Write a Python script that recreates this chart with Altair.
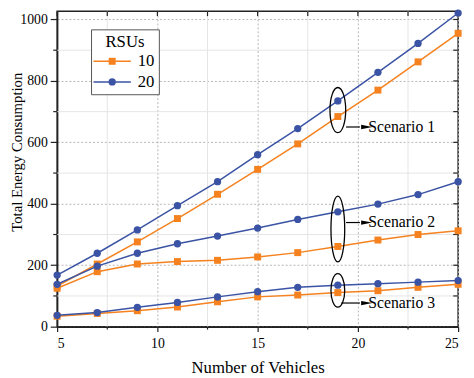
import altair as alt
import pandas as pd

# ---------------- data ----------------
vehicles = [5, 7, 9, 11, 13, 15, 17, 19, 21, 23, 25]
s1_rsu10 = [132, 204, 276, 352, 431, 512, 595, 684, 770, 862, 955]
s1_rsu20 = [168, 239, 315, 394, 472, 560, 645, 735, 828, 922, 1021]
s2_rsu10 = [125, 179, 204, 212, 216, 227, 241, 261, 282, 300, 312]
s2_rsu20 = [138, 197, 239, 270, 295, 321, 349, 374, 399, 430, 472]
s3_rsu10 = [34, 43, 52, 64, 81, 97, 103, 111, 117, 128, 138]
s3_rsu20 = [37, 46, 63, 79, 97, 114, 128, 135, 140, 145, 150]

y_major = [0, 200, 400, 600, 800, 1000]
y_minor = [100, 300, 500, 700, 900]
x_major = [5, 10, 15, 20, 25]
x_minor = [7.5, 12.5, 17.5, 22.5]

rsu_labels = ["10", "20"]
rsu_colors = ["#F5821F", "#3A53A4"]

scen_labels = ["Scenario 1", "Scenario 2", "Scenario 3"]
ell_x = 19
ell_y = [705, 318, 118]
ell_h = [46, 67, 34]
ell_w = [16, 14, 14]
arrow_y = [650, 339, 77]
arrow_x0 = [19.41, 19.41, 19.17]
arrow_x1 = 20.44
head_x = 20.1
text_x = 20.52

W, H = 408, 321
FONT = "Liberation Serif"

rows = []
for scen, a10, a20 in [("S1", s1_rsu10, s1_rsu20), ("S2", s2_rsu10, s2_rsu20), ("S3", s3_rsu10, s3_rsu20)]:
    for v, a, b in zip(vehicles, a10, a20):
        rows.append({"veh": v, "val": a, "rsu": "10", "scen": scen})
        rows.append({"veh": v, "val": b, "rsu": "20", "scen": scen})
df = pd.DataFrame(rows)

xs = alt.Scale(domain=[5, 25], nice=False, zero=False)
ys = alt.Scale(domain=[0, 1027], nice=False, zero=True)

one = pd.DataFrame({"k": [0]})

layers = []

# minor grid
layers.append(alt.Chart(pd.DataFrame({"v": y_minor})).mark_rule(color="#e4e4e4", strokeWidth=1)
              .encode(y=alt.Y("v:Q", scale=ys)))
layers.append(alt.Chart(pd.DataFrame({"v": x_minor})).mark_rule(color="#e4e4e4", strokeWidth=1)
              .encode(x=alt.X("v:Q", scale=xs)))

# minor outward ticks left / bottom
layers.append(alt.Chart(pd.DataFrame({"v": y_minor})).mark_rule(color="#222", strokeWidth=1.2)
              .encode(y=alt.Y("v:Q", scale=ys), x=alt.value(-4), x2=alt.value(0)))
layers.append(alt.Chart(pd.DataFrame({"v": x_minor})).mark_rule(color="#222", strokeWidth=1.2)
              .encode(x=alt.X("v:Q", scale=xs), y=alt.value(H), y2=alt.value(H + 3)))
# inward ticks top / right
layers.append(alt.Chart(pd.DataFrame({"v": x_major + x_minor})).mark_rule(color="#222", strokeWidth=1.2)
              .encode(x=alt.X("v:Q", scale=xs), y=alt.value(0), y2=alt.value(5)))
layers.append(alt.Chart(pd.DataFrame({"v": y_major + y_minor})).mark_rule(color="#222", strokeWidth=1.2)
              .encode(y=alt.Y("v:Q", scale=ys), x=alt.value(W - 5), x2=alt.value(W)))

# series
shapes = ["square", "circle"]
sizes = [50, 55]
for lab, col, shp, sz in zip(rsu_labels, rsu_colors, shapes, sizes):
    sub = df[df["rsu"] == lab]
    base = alt.Chart(sub)
    xenc = alt.X("veh:Q", scale=xs,
                 axis=alt.Axis(values=x_major, title="Number of Vehicles", grid=True,
                               tickSize=5, labelPadding=16, labelBaseline="alphabetic",
                               titleFontSize=17, titleBaseline="alphabetic", titleY=47))
    yenc = alt.Y("val:Q", scale=ys,
                 axis=alt.Axis(values=y_major, title="Total Energy Consumption", grid=True,
                               format="d", tickSize=7, labelPadding=3,
                               titleFontSize=15, titleBaseline="alphabetic",
                               titleX=-36, titleY=143, titleAngle=270))
    layers.append(base.mark_line(color=col, strokeWidth=1.5).encode(x=xenc, y=yenc, detail="scen:N"))
    layers.append(base.mark_point(color=col, filled=True, opacity=1, shape=shp, size=sz)
                  .encode(x=xenc, y=yenc))

# annotations: ellipses, arrows, texts
for i in range(3):
    a = ell_w[i] / ell_h[i]
    k = 0.5523
    path = (f"M0,-1 C{k*a:.4f},-1 {a:.4f},{-k} {a:.4f},0 C{a:.4f},{k} {k*a:.4f},1 0,1 "
            f"C{-k*a:.4f},1 {-a:.4f},{k} {-a:.4f},0 C{-a:.4f},{-k} {-k*a:.4f},-1 0,-1 Z")
    adf = pd.DataFrame({"x": [ell_x], "y": [ell_y[i]], "x0": [arrow_x0[i]], "x1": [arrow_x1],
                        "ya": [arrow_y[i]], "hx": [head_x], "tx": [text_x], "t": [scen_labels[i]]})
    ab = alt.Chart(adf)
    layers.append(ab.mark_point(shape=path, size=ell_h[i] ** 2, filled=False, color="black",
                                strokeWidth=1.3, opacity=1)
                  .encode(x=alt.X("x:Q", scale=xs), y=alt.Y("y:Q", scale=ys)))
    layers.append(ab.mark_rule(color="black", strokeWidth=1.2)
                  .encode(x=alt.X("x0:Q", scale=xs), x2="hx:Q", y=alt.Y("ya:Q", scale=ys)))
    layers.append(ab.mark_point(shape="M-1,-0.38 L1,0 L-1,0.38 Z", size=130, filled=True,
                                color="black", opacity=1)
                  .encode(x=alt.X("x1:Q", scale=xs), y=alt.Y("ya:Q", scale=ys)))
    layers.append(ab.mark_text(font=FONT, fontSize=16, align="left", baseline="middle", color="black")
                  .encode(x=alt.X("tx:Q", scale=xs), y=alt.Y("ya:Q", scale=ys), text="t:N"))

# legend (drawn manually)
layers.append(alt.Chart(one).mark_rect(fill="white", stroke="#555", strokeWidth=1)
              .encode(x=alt.value(35), x2=alt.value(104), y=alt.value(19), y2=alt.value(85)))
layers.append(alt.Chart(one).mark_text(font=FONT, fontSize=17, align="center", baseline="middle", color="black")
              .encode(x=alt.value(69), y=alt.value(31), text=alt.value("RSUs")))
leg_y = [51, 72]
for lab, col, shp, sz, ly in zip(rsu_labels, rsu_colors, shapes, sizes, leg_y):
    ldf = pd.DataFrame({"t": [lab]})
    lb = alt.Chart(ldf)
    layers.append(lb.mark_rule(color=col, strokeWidth=1.5)
                  .encode(x=alt.value(37), x2=alt.value(75), y=alt.value(ly)))
    layers.append(lb.mark_point(color=col, filled=True, opacity=1, shape=shp, size=sz)
                  .encode(x=alt.value(56), y=alt.value(ly)))
    layers.append(lb.mark_text(font=FONT, fontSize=17, align="left", baseline="middle", color="black")
                  .encode(x=alt.value(82), y=alt.value(ly), text="t:N"))

chart = alt.layer(*layers).properties(
    width=W, height=H,
    autosize=alt.AutoSizeParams(type="none"),
    padding={"left": 50, "top": 0, "right": 8, "bottom": 50},
).configure_view(
    stroke="#222", strokeWidth=1.5
).configure_axis(
    labelFont=FONT, titleFont=FONT, labelFontSize=14,
    labelColor="black", titleColor="black", titleFontWeight="normal",
    domainColor="#222", domainWidth=1.5, tickColor="#222", tickWidth=1.2,
    gridColor="#b5b5b5", gridDash=[2, 2], gridWidth=1,
)

chart.save("out.html", embed_options={"renderer": "svg", "actions": False})
